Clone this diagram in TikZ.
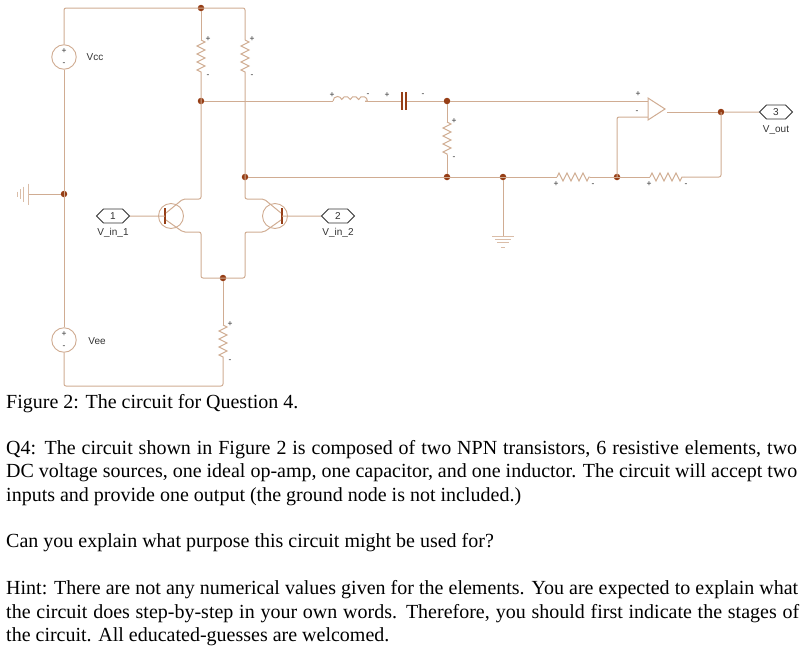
\documentclass[tikz,border=0pt]{standalone}
\usepackage{fontspec}
\setmainfont{Liberation Serif}
\setsansfont{Liberation Sans}
\usetikzlibrary{calc,shapes.symbols,decorations.pathmorphing}
\definecolor{wirecol}{RGB}{208,172,146}
\definecolor{dotcol}{RGB}{150,62,22}
\definecolor{labcol}{RGB}{50,50,50}
\tikzstyle{wire}=[draw=wirecol,line width=1pt,rounded corners=2pt]
\tikzstyle{junction}=[circle,fill=dotcol,minimum size=6.5pt,inner sep=0pt]
\tikzstyle{source}=[circle,draw=wirecol,fill=white,line width=0.9pt,minimum size=24.5pt,inner sep=0pt]
\tikzstyle{bjt}=[circle,draw=wirecol,line width=0.9pt,minimum size=25pt,inner sep=0pt]
\tikzstyle{port}=[signal,signal to=east and west,draw=labcol,fill=white,line width=0.9pt,minimum width=33pt,minimum height=14pt,inner sep=0pt,font=\sffamily\fontsize{10}{10}\selectfont,text=labcol]
\tikzstyle{small}=[font=\sffamily\fontsize{10}{10}\selectfont,text=labcol]
\tikzstyle{sign}=[font=\sffamily\fontsize{8.5}{8.5}\selectfont,text=labcol,inner sep=0pt]
\tikzstyle{resistor}=[wirecol,line width=1pt,decorate,decoration={zigzag,segment length=8pt,amplitude=4pt}]
\tikzstyle{para}=[anchor=base west,inner sep=0pt,font=\fontsize{20}{20}\selectfont,text=black]
\begin{document}
\begin{tikzpicture}[x=1pt,y=-1pt]
  \useasboundingbox (0,0) rectangle (805,651);

  % junctions
  \foreach \pos/\name in {{(201,8)/top}, {(201,101)/cOne}, {(245,177)/cTwo}, {(64,194)/gndNode}, {(223,278)/tail},
      {(447,101)/capEnd}, {(447,177)/midA}, {(503,177)/midB}, {(617,177)/midC}, {(721,112)/outNode}}
    \node[junction] (\name) at \pos {};

  % corners and component ends
  \foreach \pos/\name in {{(64,8)/tl}, {(245,8)/tr}, {(64,386)/bl}, {(223,386)/br},
      {(201,40)/rOneA}, {(201,73)/rOneB}, {(245,40)/rTwoA}, {(245,73)/rTwoB},
      {(223,325)/rTailA}, {(223,358)/rTailB}, {(447,122)/rMidA}, {(447,155)/rMidB},
      {(557,177)/rInA}, {(590,177)/rInB}, {(650,177)/rFbA}, {(684,177)/rFbB},
      {(333,101)/lA}, {(365,101)/lB}, {(402,101)/capA}, {(406,101)/capB},
      {(648,98)/ampT}, {(648,120)/ampB}, {(665,109)/ampTip}, {(648,101)/ampP}, {(648,117)/ampN}, {(667,112)/ampOut},
      {(721,177)/fbCorner}, {(617,117)/negCorner}, {(28,194)/gndLeft}, {(503,236)/gndDown},
      {(165,216)/bOne}, {(282,216)/bTwo}, {(183,199)/colOne}, {(166,213)/colOneB}, {(183,232)/emOne}, {(166,220)/emOneB},
      {(264,199)/colTwo}, {(281,213)/colTwoB}, {(264,232)/emTwo}, {(281,220)/emTwoB},
      {(201,278)/tailL}, {(245,278)/tailR}}
    \node[coordinate] (\name) at \pos {};

  % supplies
  \node[source] (vcc) at (64,57) {};
  \node[source] (vee) at (64,340) {};
  \foreach \src in {vcc,vee} {
    \node[sign] (\src plus) at ($(\src)+(0,-6)$) {+};
    \node[sign] (\src minus) at ($(\src)+(0,7)$) {-};
  }
  \node[small] (vcclab) at (95,57) {Vcc};
  \node[small] (veelab) at (97,341) {Vee};

  % transistors
  \node[bjt] (qOne) at (171,216) {};
  \node[bjt] (qTwo) at (275,216) {};
  \draw[dotcol,line width=1.6pt] (165,208) -- (165,224);
  \draw[dotcol,line width=1.6pt] (282,208) -- (282,224);

  % ports
  \node[port] (pOne) at (113,216) {1};
  \node[port] (pTwo) at (338,216) {2};
  \node[port] (pOut) at (776,112) {3};
  \node[small] (pOnelab) at (113,233) {V\_in\_1};
  \node[small] (pTwolab) at (338,233) {V\_in\_2};
  \node[small] (pOutlab) at (776,130) {V\_out};

  % wires
  \draw[wire] (vcc) -- (tl) -- (top.center) -- (tr) -- (rTwoA);
  \draw[wire] (vcc) -- (vee);
  \draw[wire] (vee) -- (bl) -- (br) -- (rTailB);
  \draw[wire] (top) -- (rOneA);
  \draw[wire] (rOneB) -- (cOne.center) |- (colOne) -- (colOneB);
  \draw[wire] (rTwoB) -- (cTwo.center) |- (colTwo) -- (colTwoB);
  \draw[wire] (emOneB) -- (emOne) -| (tailL) -- (tailR) |- (emTwo) -- (emTwoB);
  \draw[wire] (tail) -- (rTailA);
  \draw[wire] (gndNode) -- (gndLeft);
  \draw[wire] (pOne) -- (bOne);
  \draw[wire] (pTwo) -- (bTwo);
  \draw[wire] (cOne) -- (lA);
  \draw[wire] (lB) -- (capA);
  \draw[wire] (capB) -- (capEnd);
  \draw[wire] (capEnd) -- (ampP);
  \draw[wire] (capEnd) -- (rMidA);
  \draw[wire] (rMidB) -- (midA);
  \draw[wire] (cTwo) -- (rInA);
  \draw[wire] (rInB) -- (rFbA);
  \draw[wire] (rFbB) -- (fbCorner) -- (outNode.center);
  \draw[wire] (midC.center) -- (negCorner) -- (ampN);
  \draw[wire] (ampOut) -- (outNode);
  \draw[wire] (outNode) -- (pOut);
  \draw[wire] (midB) -- (gndDown);

  % resistors, inductor, capacitor, amplifier
  \foreach \a/\b in {rOneA/rOneB, rTwoA/rTwoB, rTailA/rTailB, rMidA/rMidB, rInA/rInB, rFbA/rFbB}
    \draw[resistor] (\a) -- (\b);
  \draw[wirecol,line width=1pt] (lA) arc[start angle=180,end angle=20,radius=4.5pt]
     arc[start angle=160,end angle=20,radius=4.5pt] arc[start angle=160,end angle=20,radius=4.5pt]
     arc[start angle=160,end angle=0,radius=4.5pt] -- (lB);
  \draw[dotcol,line width=1.6pt] (capA)+(0,-9) -- +(0,9);
  \draw[dotcol,line width=1.6pt] (capB)+(0,-9) -- +(0,9);
  \draw[wirecol,line width=1pt,fill=white] (ampT) -- (ampTip) -- (ampB) -- cycle;

  % grounds
  \foreach \dx/\hh in {0/10.5, -5/7.5, -8/5, -11/2.5}
    \draw[wirecol!80,line width=0.9pt] ($(gndLeft)+(\dx,-\hh)$) -- ($(gndLeft)+(\dx,\hh)$);
  \foreach \dy/\hh in {0/11, 3/8, 6/6, 11/2}
    \draw[wirecol!80,line width=0.9pt] ($(gndDown)+(-\hh,\dy)$) -- ($(gndDown)+(\hh,\dy)$);

  % polarity signs
  \foreach \pos/\name/\label in {{(208,39)/sA/+}, {(208,76)/sB/-}, {(252,39)/sC/+}, {(252,76)/sD/-},
      {(230,324)/sE/+}, {(230,361)/sF/-}, {(454,121)/sG/+}, {(454,158)/sH/-},
      {(332,95)/sI/+}, {(368,95)/sJ/-}, {(387,95)/sK/+}, {(423,95)/sL/-},
      {(556,184)/sM/+}, {(593,185)/sN/-}, {(649,184)/sO/+}, {(686,185)/sP/-},
      {(638,94)/sQ/+}, {(637,112)/sR/-}}
    \node[sign] (\name) at \pos {\label};

  % text
  \foreach \yy/\name/\linew/\txt in {
      454/lineA/791/{Q4: The circuit shown in Figure 2 is composed of two NPN transistors, 6 resistive elements, two},
      477/lineB/791/{DC voltage sources, one ideal op-amp, one capacitor, and one inductor. The circuit will accept two},
      594/lineC/792/{Hint: There are not any numerical values given for the elements. You are expected to explain what},
      618/lineD/793/{the circuit does step-by-step in your own words. Therefore, you should first indicate the stages of}}
    \node[para] (\name) at (6,\yy) {\makebox[\linew pt][s]{\txt}};
  \foreach \yy/\name/\txt in {
      408/figCap/{Figure 2: The circuit for Question 4.},
      501/lineE/{inputs and provide one output (the ground node is not included.)},
      547/lineF/{Can you explain what purpose this circuit might be used for?},
      641/lineG/{the circuit. All educated-guesses are welcomed.}}
    \node[para] (\name) at (6,\yy) {\txt};
\end{tikzpicture}
\end{document}
